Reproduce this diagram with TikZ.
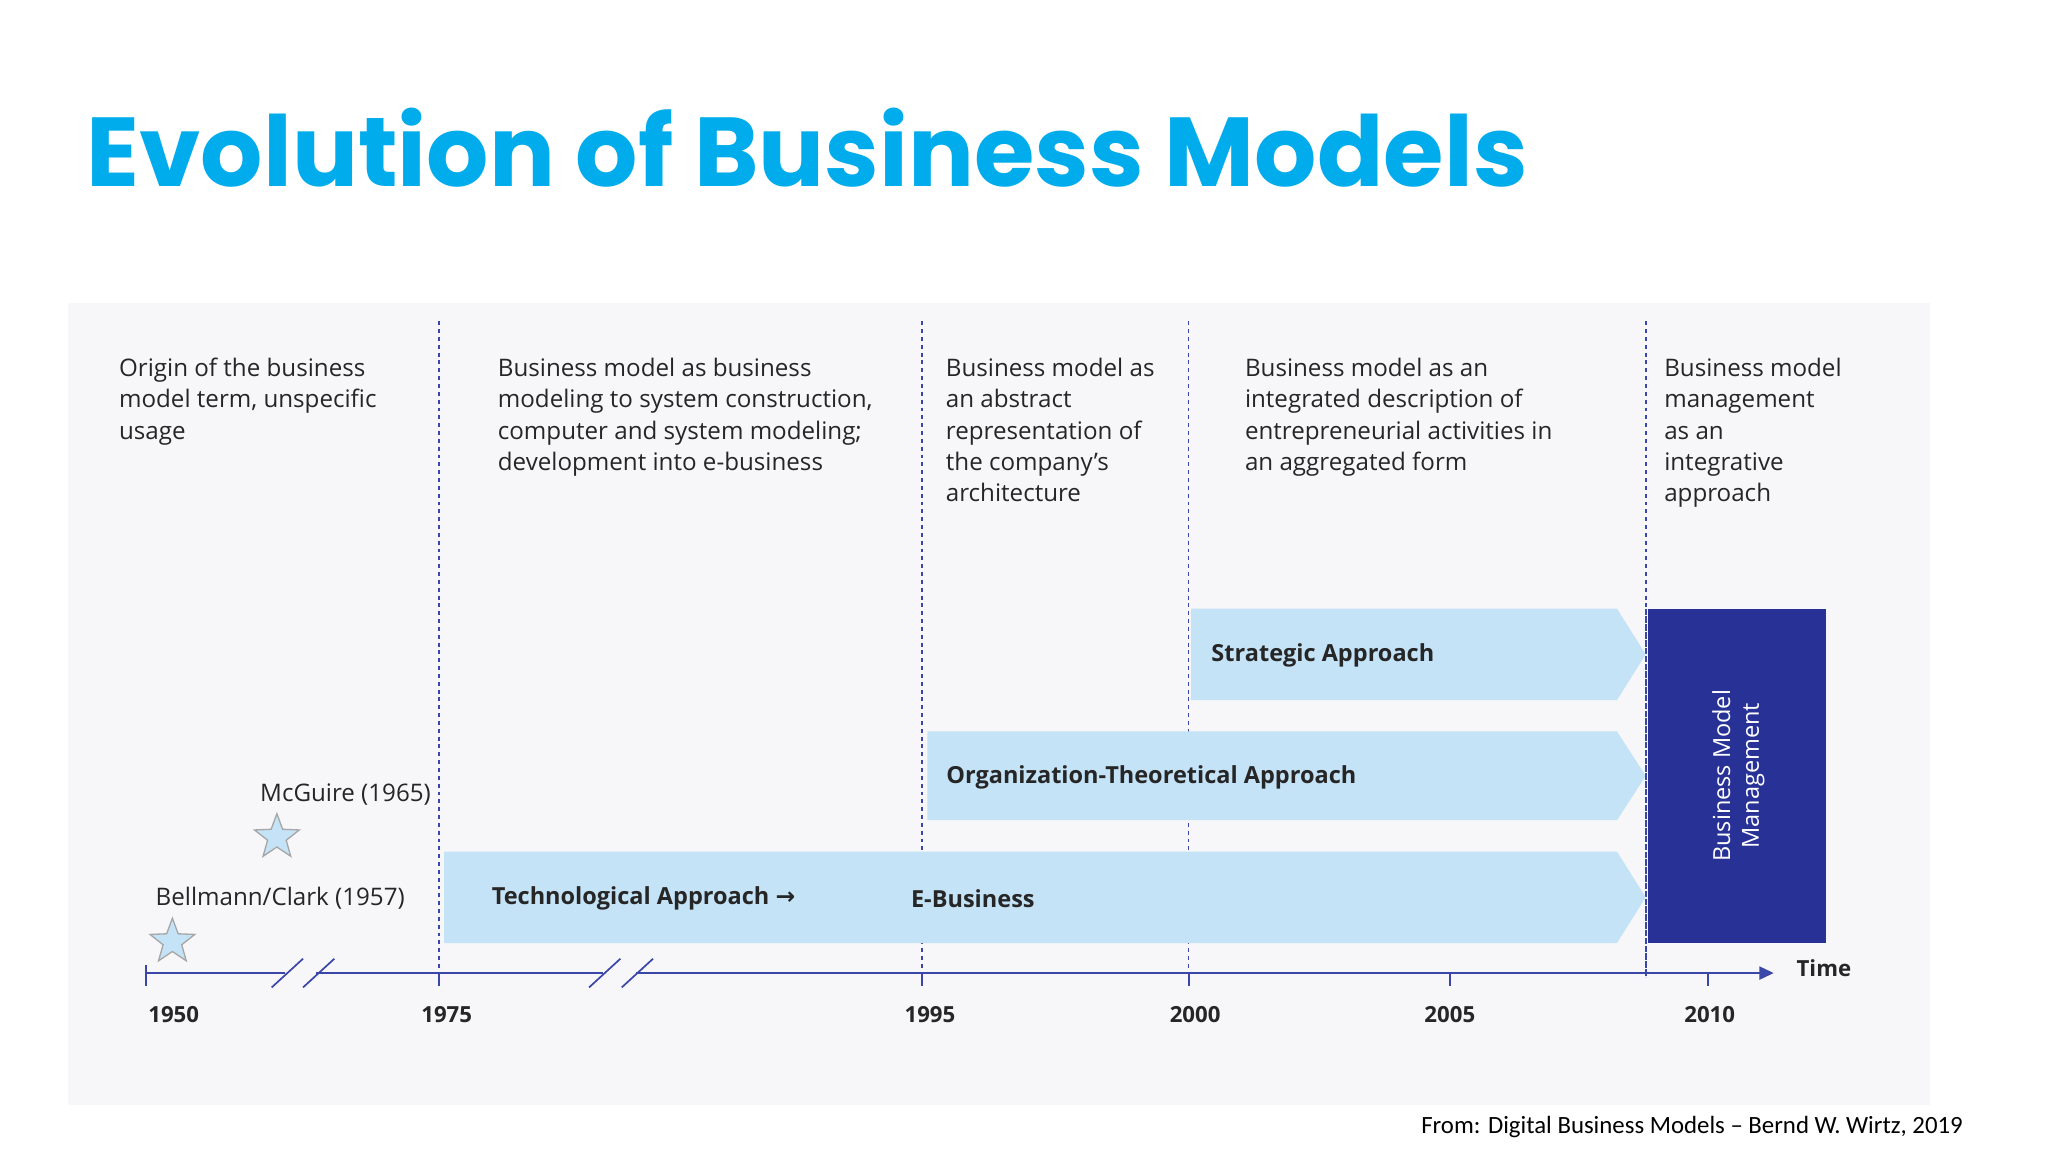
\documentclass[tikz,border=0pt]{standalone}
\usepackage{fontspec}
\setmainfont{Open Sans}
\newfontfamily\titlefont{Poppins}
\newfontfamily\footfont{Carlito}
\newfontfamily\symfont{DejaVu Sans}
\usetikzlibrary{shapes.geometric,arrows.meta}
\definecolor{ttl}{RGB}{0,172,236}
\definecolor{panel}{RGB}{247,247,250}
\definecolor{dblue}{RGB}{58,70,168}
\definecolor{lblue}{RGB}{197,227,247}
\definecolor{navy}{RGB}{40,50,150}
\tikzset{
  desc/.style={anchor=north west,align=left,font=\fontsize{18.5}{24}\selectfont,inner sep=0pt,text=black!85},
  yr/.style={font=\fontsize{17}{20}\selectfont\bfseries,text=black!85},
  divider/.style={dblue,dashed,line width=1.3pt},
  lbl/.style={font=\fontsize{18}{20}\selectfont\bfseries,anchor=west,text=black!85},
  starm/.style={star,star points=5,star point ratio=2.4,fill=lblue,draw=gray!70,line width=1pt,minimum size=36pt,inner sep=0pt},
}
\begin{document}
\begin{tikzpicture}[x=1pt,y=-1pt]
\useasboundingbox[fill=white] (0,0) rectangle (1568,882);
\fill[panel] (52,232) rectangle (1478,846);
\node[anchor=base west,inner sep=0pt,text=ttl,font=\titlefont\fontsize{75}{80}\selectfont\bfseries] (title) at (66,143) {Evolution of Business Models};
% dividers
\foreach \x in {336,706,910,1260} \draw[divider] (\x,246) -- (\x,748);
% arrows
\fill[lblue] (340,652) -- (1238,652) -- (1260,687) -- (1238,722) -- (340,722) -- cycle;
\fill[lblue] (710,560) -- (1238,560) -- (1260,594) -- (1238,628) -- (710,628) -- cycle;
\fill[lblue] (912,466) -- (1238,466) -- (1260,501) -- (1238,536) -- (912,536) -- cycle;
\draw[divider] (1260,466) -- (1260,748);
\fill[navy] (1262,466) rectangle (1398,722);
\node[rotate=90,text=white,align=center,font=\fontsize{18}{22}\selectfont] (bmm) at (1331,594) {Business Model\\Management};
\node[lbl] (strat) at (924,502) {Strategic Approach};
\node[lbl] (org) at (721,595) {Organization-Theoretical Approach};
\node[lbl] (tech) at (373,688) {Technological Approach {\symfont\bfseries →}};
\node[lbl] (eb) at (694,688) {E-Business};
% axis
\coordinate (a0) at (112,745); \coordinate (a1) at (218,745);
\coordinate (a2) at (242,745); \coordinate (a3) at (462,745);
\coordinate (a4) at (487,745); \coordinate (a5) at (1358,745);
\draw[dblue,line width=1.5pt] (a0) -- (a1);
\draw[dblue,line width=1.5pt] (a2) -- (a3);
\draw[dblue,line width=1.5pt,-{Triangle[length=11pt,width=10pt]}] (a4) -- (a5);
\draw[dblue,line width=1.3pt] (208,756)--(232,734) (232,756)--(256,734) (451,756)--(475,734) (476,756)--(500,734);
\draw[dblue,line width=1.5pt] (112,739)--(112,755);
\foreach \x in {336,706,910,1110,1308} \draw[dblue,line width=1.5pt] (\x,745)--(\x,755);
\node[yr] at (133,777) {1950};
\node[yr] at (342,777) {1975};
\node[yr] at (712,777) {1995};
\node[yr] at (915,777) {2000};
\node[yr] at (1110,777) {2005};
\node[yr] at (1309,777) {2010};
\node[yr,anchor=west] (time) at (1372,741) {Time};
% stars
\node[starm] (s1) at (212,641) {};
\node[starm] (s2) at (132,721) {};
\node[anchor=west,inner sep=0pt,font=\fontsize{18.5}{20}\selectfont,text=black!85] (mc) at (199,608) {McGuire (1965)};
\node[anchor=west,inner sep=0pt,font=\fontsize{18.5}{20}\selectfont,text=black!85] (bc) at (119,688) {Bellmann/Clark (1957)};
% descriptions
\node[desc] (d1) at (91,274) {Origin of the business\\model term, unspecific\\usage};
\node[desc] (d2) at (381,274) {Business model as business\\modeling to system construction,\\computer and system modeling;\\development into e-business};
\node[desc] (d3) at (724,274) {Business model as\\an abstract\\representation of\\the company’s\\architecture};
\node[desc] (d4) at (953,274) {Business model as an\\integrated description of\\entrepreneurial activities in\\an aggregated form};
\node[desc] (d5) at (1274,274) {Business model\\management\\as an\\integrative\\approach};
\node[anchor=base east,inner sep=0pt,font=\footfont\fontsize{19}{20}\selectfont] (foot) at (1503,868) {From: Digital Business Models – Bernd W. Wirtz, 2019};
\end{tikzpicture}
\end{document}
